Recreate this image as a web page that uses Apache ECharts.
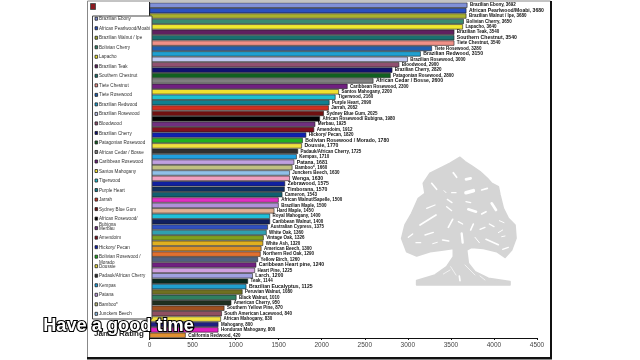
<!DOCTYPE html>
<html>
<head>
<meta charset="utf-8">
<style>html,body{margin:0;padding:0;background:#fff}#chart{width:640px;height:360px}</style>
<script src="https://cdn.jsdelivr.net/npm/echarts@6/dist/echarts.min.js"></script>
</head>
<body>
<div id="chart"></div>
<script>
var species = ['Brazilian Ebony','African Pearlwood/Moabi','Brazilian Walnut / Ipe','Bolivian Cherry','Lapacho','Brazilian Teak','Southern Chestnut','Tiete Chestnut','Tiete Rosewood','Brazilian Redwood','Brazilian Rosewood','Bloodwood','Brazilian Cherry','Patagonian Rosewood','African Cedar / Bosse','Caribbean Rosewood','Santos Mahogany','Tigerwood','Purple Heart','Jarrah','Sydney Blue Gum','African Rosewood/ Bubigna','Merbau','Amendoim','Hickory/ Pecan','Bolivian Rosewood / Morado','Doussie','Padauk/African Cherry','Kempas','Patana','Bamboo*','Junckers Beech','Wenga','Zebrawood','Timborana','Cameron','African Walnut/Sapelle','Brazilian Maple','Hard Maple','Royal Mahogany','Caribbean Walnut','Australian Cypress','White Oak','Vintage Oak','White Ash','American Beech','Northern Red Oak','Yellow Birch','Caribbean Heart pine','Heart Pine','Larch','Teak','Brazilian Eucalyptus','Peruvian Walnut','Black Walnut','American Cherry','Southern Yellow Pine','South American Lacewood','African Mahogany','Mahogany','Honduran Mahogany','California Redwood'];
var hardness = [3692,3680,3680,3650,3640,3540,3540,3540,3280,3150,3000,2900,2820,2800,2600,2300,2200,2160,2090,2082,2025,1980,1925,1912,1820,1780,1770,1725,1710,1681,1660,1630,1630,1575,1570,1543,1500,1500,1450,1400,1400,1375,1360,1326,1320,1300,1290,1260,1240,1225,1200,1144,1125,1080,1010,950,870,840,830,800,800,420];
var barColors = ['#8090d8','#2a50c0','#a8b030','#3a8a70','#f0e830','#602060','#1a7070','#f09088','#1f5fb0','#20a0d0','#c0c8f0','#905070','#101070','#106020','#808080','#702080','#f0e030','#20c0d0','#108090','#d03020','#701010','#000000','#703080','#801020','#1020b0','#20b020','#f0e040','#303030','#20a0e0','#c0a0e0','#c0c080','#90c0e8','#f0a0c0','#1020a0','#103060','#106070','#e030c0','#b090d8','#e0b090','#20c0d8','#102060','#3050c0','#30a0b0','#80a020','#e0b020','#e09020','#e07030','#506080','#702080','#d0a0e0','#a0a0e0','#0a2a20','#20a0d0','#707020','#308060','#203020','#a05020','#905060','#f0e040','#202080','#e020c0','#e09030'];
// labels that are drawn a size larger in the picture
var bigLabels = ['African Pearlwood/Moabi','Southern Chestnut','Brazilian Redwood','African Cedar / Bosse','Bolivian Rosewood / Morado','Doussie','Patana','Wenga','Zebrawood','Timborana','Caribbean Heart pine','Larch','Brazilian Eucalyptus'];
var legendNames = species.slice(0, 32);
legendNames[21] = 'African Rosewood/\nBubigna';
legendNames[25] = 'Bolivian Rosewood /\nMorado';
var xTicks = 500, xMax = 4500;

// tree outline and its gaps, in crop pixels
var treeOutline = [[180,22],[195,35],[215,48],[240,65],[262,85],[275,100],[295,110],[300,135],[310,175],[325,205],[345,225],[348,265],[335,300],[315,322],[290,305],[250,295],[215,292],[200,300],[205,340],[225,365],[265,385],[330,395],[330,405],[50,405],[50,392],[105,375],[140,350],[160,320],[160,295],[130,300],[90,305],[50,318],[20,305],[5,265],[15,225],[35,190],[55,145],[75,130],[70,100],[90,70],[120,55],[150,40]];
var treeGaps = [[95,100,110,118,5],[160,68,170,82,5],[198,88,212,85,8],[245,120,262,115,5],[198,128,220,122,11],[155,128,168,128,4],[132,122,138,128,3],[275,160,288,180,8],[142,148,156,158,4],[198,155,212,158,4],[205,178,228,185,8],[140,170,155,182,4],[80,175,105,165,4],[60,225,108,195,5],[245,192,258,185,5],[145,232,158,208,5],[175,215,188,222,4],[212,240,220,222,5],[240,238,255,232,4],[268,222,282,230,4],[298,212,312,218,3],[295,248,308,240,3],[75,255,100,247,4],[25,262,38,252,4],[48,278,62,278,4],[128,270,146,273,5],[185,250,188,278,7],[225,262,238,278,3],[258,268,295,284,5],[98,281,112,277,3],[308,298,325,292,4],[305,260,315,258,3],[152,350,168,375,2],[178,378,180,392,5],[195,345,225,375,2],[240,378,255,390,2],[130,372,150,360,2]];

function buildGraphics() {
    var els = [];
    // page frame
    els.push({type: 'rect', z: 0, silent: true, shape: {x: 87.5, y: 1, width: 463, height: 356.5}, style: {fill: 'none', stroke: '#888', lineWidth: 1}});
    els.push({type: 'rect', z: 0, silent: true, shape: {x: 87, y: 357, width: 465, height: 2.5}, style: {fill: '#111'}});
    els.push({type: 'rect', z: 0, silent: true, shape: {x: 550, y: 1, width: 2, height: 358}, style: {fill: '#111'}});
    // tree
    var treeBase = {x: 400, y: 150, scaleX: 1 / 3, scaleY: 1 / 3};
    els.push({type: 'polygon', z: 0, silent: true, x: treeBase.x, y: treeBase.y, scaleX: treeBase.scaleX, scaleY: treeBase.scaleY,
        shape: {points: treeOutline}, style: {fill: '#d5d5d5', stroke: '#d5d5d5', lineWidth: 5, lineJoin: 'round'}});
    treeGaps.forEach(function (g) {
        els.push({type: 'line', z: 0, silent: true, x: treeBase.x, y: treeBase.y, scaleX: treeBase.scaleX, scaleY: treeBase.scaleY,
            shape: {x1: g[0], y1: g[1], x2: g[2], y2: g[3]}, style: {stroke: '#fff', lineWidth: g[4], lineCap: 'round'}});
    });
    // small icon at the top
    els.push({type: 'rect', z: 20, silent: true, shape: {x: 89, y: 3, width: 60, height: 13}, style: {fill: '#fff'}});
    els.push({type: 'rect', z: 21, silent: true, shape: {x: 90.5, y: 3.5, width: 5, height: 6}, style: {fill: '#8a1a20', stroke: '#555', lineWidth: 1}});
    // legend box
    els.push({type: 'rect', z: 20, silent: true, shape: {x: 92.5, y: 16, width: 59.5, height: 303}, style: {fill: '#fff', stroke: '#444', lineWidth: 1}});
    for (var i = 0; i < legendNames.length; i++) {
        var y = 18.7 + i * 9.52;
        els.push({type: 'rect', z: 21, silent: true, shape: {x: 95, y: y - 1.5, width: 2.6, height: 3}, style: {fill: barColors[i], stroke: '#222', lineWidth: 0.8}});
        els.push({type: 'text', z: 21, silent: true, x: 99, y: y - 2.4,
            style: {text: legendNames[i], fill: '#333', font: '4.6px "Liberation Sans"', lineHeight: 5.4, align: 'left', verticalAlign: 'top'}});
    }
    // title under the caption
    els.push({type: 'text', z: 21, silent: true, x: 94, y: 329.5, style: {text: 'Janka Rating', fill: '#222', font: 'bold 8px "Liberation Sans"'}});
    // caption
    els.push({type: 'text', z: 30, silent: true, x: 118.5, y: 326, style: {text: 'Have a good time', fill: '#fff', stroke: '#000', lineWidth: 2.2,
        font: 'bold 18.2px "Liberation Sans"', align: 'center', verticalAlign: 'middle'}});
    return els;
}

var seriesData = hardness.map(function (v, i) {
    var big = bigLabels.indexOf(species[i]) >= 0;
    return {
        value: v,
        name: species[i],
        itemStyle: {color: barColors[i]},
        label: {fontSize: big ? 5.1 : 4.5}
    };
});

var myChart = echarts.init(document.getElementById('chart'), null, {renderer: 'canvas'});
myChart.setOption({
    animation: false,
    backgroundColor: '#fff',
    textStyle: {fontFamily: '"Liberation Sans"'},
    grid: {left: 149.5, right: 103, top: 2.5, bottom: 22},
    xAxis: {
        type: 'value', min: 0, max: xMax, interval: xTicks,
        splitLine: {show: false},
        axisLine: {show: true, lineStyle: {color: '#111', width: 1}},
        axisTick: {show: true, length: 2, inside: false, lineStyle: {color: '#111'}},
        axisLabel: {color: '#444', fontSize: 6.5, margin: 4, formatter: function (v) { return String(v); }}
    },
    yAxis: {
        type: 'category', inverse: true, data: species,
        axisLine: {show: true, lineStyle: {color: '#111', width: 1}},
        axisTick: {show: false},
        axisLabel: {show: false}
    },
    series: [{
        type: 'bar',
        data: seriesData,
        barCategoryGap: '4%',
        itemStyle: {borderColor: '#222', borderWidth: 0.6},
        label: {
            show: true, position: 'right', distance: 2.5, color: '#111', fontWeight: 'bold',
            formatter: function (p) { return p.name + ', ' + p.value; }
        }
    }],
    graphic: {elements: buildGraphics()}
});
window.onresize = myChart.resize;
</script>
</body>
</html>
